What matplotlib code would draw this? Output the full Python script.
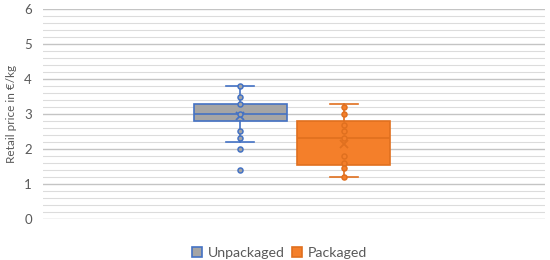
import numpy as np
import matplotlib.pyplot as plt
from matplotlib.patches import Patch

plt.rcParams['font.family'] = ['Lato', 'DejaVu Sans']

series = ["Unpackaged", "Packaged"]
q1 = [2.8, 1.55]
med = [3.0, 2.3]
q3 = [3.3, 2.8]
whislo = [2.2, 1.2]
whishi = [3.8, 3.3]
means = [2.93, 2.15]
# inner points and outliers
points_unpack = [3.8, 3.5, 3.3, 3.0, 2.5, 2.3]
outliers_unpack = [2.0, 1.4]
points_pack = [3.2, 3.0, 2.7, 2.5, 2.3, 1.8, 1.6, 1.45, 1.2]
outliers_pack = []

yticks = [0, 1, 2, 3, 4, 5, 6]

fills = ["#a5a5a5", "#f47f2a"]
edges = ["#4472c4", "#e0701f"]
positions = [-0.107, 0.099]
width = 0.186

fig = plt.figure(figsize=(5.5, 2.6), dpi=100)
ax = fig.add_axes([0.078, 0.158, 0.913, 0.807])

# gridlines
ax.set_ylim(0, 6)
ax.set_xlim(-0.5, 0.5)
ax.set_yticks(yticks)
ax.set_yticks(np.arange(0, 6.01, 0.2), minor=True)
ax.grid(True, which="major", axis="y", color="#c4c4c4", lw=1.0, zorder=0)
ax.grid(True, which="minor", axis="y", color="#dcdcdc", lw=0.8, zorder=0)
ax.tick_params(axis="y", which="both", length=0, colors="#595959", labelsize=9.5, pad=8)
ax.tick_params(axis="x", which="both", length=0, labelbottom=False)
for s in ax.spines.values():
    s.set_visible(False)
ax.set_axisbelow(True)

pts = [points_unpack, points_pack]
outs = [outliers_unpack, outliers_pack]
for i in range(2):
    stats = [dict(med=med[i], q1=q1[i], q3=q3[i], whislo=whislo[i], whishi=whishi[i],
                  mean=means[i], fliers=[])]
    ax.bxp(stats, positions=[positions[i]], widths=width, patch_artist=True,
           showmeans=True, showfliers=False,
           boxprops=dict(facecolor=fills[i], edgecolor=edges[i], lw=1.2),
           medianprops=dict(color=edges[i], lw=1.2),
           whiskerprops=dict(color=edges[i], lw=1.2),
           capprops=dict(color=edges[i], lw=1.2),
           capwidths=width * 0.3,
           meanprops=dict(marker="x", markeredgecolor=edges[i], markersize=6, mew=1.3))
    allp = pts[i] + outs[i]
    ax.plot([positions[i]] * len(allp), allp, ls="none", marker="o", ms=3.6,
            mfc=fills[i], mec=edges[i], mew=1.1, zorder=4)

ax.set_ylabel("Retail price in €/kg", color="#595959", fontsize=8.5, labelpad=5)

handles = [Patch(facecolor=fills[i], edgecolor=edges[i], lw=1.2) for i in range(2)]
fig.legend(handles, series, loc="lower center", bbox_to_anchor=(0.508, -0.045), ncol=2,
           frameon=False, fontsize=10.2, handlelength=0.75, handleheight=0.75,
           handletextpad=0.4, columnspacing=0.5, labelcolor="#595959")

fig.savefig("out.png", dpi=100)
